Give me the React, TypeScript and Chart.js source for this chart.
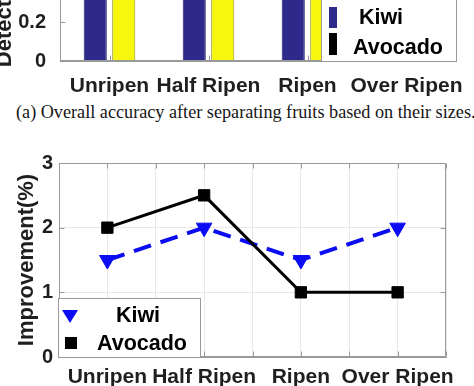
import React, { useEffect, useRef } from "react";
import { Chart, registerables } from "chart.js";

Chart.register(...registerables);

// ---------- data ----------
const categories = ["Unripen", "Half Ripen", "Ripen", "Over Ripen"];
const seriesNames = ["Kiwi", "Avocado"];
// top chart (only the lower part is visible in the reference; upper values estimated)
const kiwiAccuracy = [0.93, 0.9, 0.95, 0.92];
const avocadoAccuracy = [0.95, 0.92, 0.9, 0.94];
const accuracyTicks = [0, 0.2, 0.4, 0.6, 0.8, 1];
// bottom chart
const kiwiImprovement = [1.5, 2, 1.5, 2];
const avocadoImprovement = [2, 2.5, 1, 1];
const improvementTicks = [0, 1, 2, 3];
const accuracyTitle = "Detection Accuracy";
const improvementTitle = "Improvement(%)";
const captionText = "(a) Overall accuracy after separating fruits based on their sizes.";

// ---------- style ----------
const FONT = "'Liberation Sans', Arial, Helvetica, sans-serif";
const TEXT = "#1f1f1f";
const AXIS = "#9a9a9a";
const GRID = "#e8e8e8";
const NAVY = "#2d2a8c";
const YELLOW = "#f7f70d";
const BLUE = "#0c0cf2";

const boxPlugin = {
  id: "box",
  afterDatasetsDraw(chart: any, _args: any, opts: any) {
    const { ctx, chartArea: a, scales } = chart;
    const len = opts.len ?? 5;
    ctx.save();
    ctx.strokeStyle = opts.color || AXIS;
    ctx.lineWidth = 1;
    const L = Math.round(a.left) + 0.5;
    const R = Math.round(a.right) - 0.5;
    const T = Math.round(a.top) + 0.5;
    const B = Math.round(a.bottom) - 0.5;
    ctx.beginPath();
    ctx.moveTo(L, B);
    ctx.lineTo(L, T);
    ctx.lineTo(R, T);
    ctx.lineTo(R, B);
    ctx.lineTo(L, B);
    const xs = scales.x;
    xs.ticks.forEach((_t: any, i: number) => {
      const p = Math.round(xs.getPixelForTick(i)) + 0.5;
      ctx.moveTo(p, B);
      ctx.lineTo(p, B - len);
      ctx.moveTo(p, T);
      ctx.lineTo(p, T + len);
    });
    const ys = scales.y;
    ys.ticks.forEach((_t: any, i: number) => {
      const p = Math.round(ys.getPixelForTick(i)) + 0.5;
      ctx.moveTo(L, p);
      ctx.lineTo(L + len, p);
      ctx.moveTo(R, p);
      ctx.lineTo(R - len, p);
    });
    ctx.stroke();
    ctx.restore();
  },
};

function TopChart() {
  const ref = useRef<HTMLCanvasElement | null>(null);
  useEffect(() => {
    if (!ref.current) return;
    const chart = new Chart(ref.current, {
      type: "bar",
      data: {
        labels: categories,
        datasets: [
          {
            label: seriesNames[0],
            data: kiwiAccuracy,
            backgroundColor: NAVY,
            borderColor: "#1d1b62",
            borderWidth: 1,
            categoryPercentage: 0.576,
            barPercentage: 0.81,
          },
          {
            label: seriesNames[1],
            data: avocadoAccuracy,
            backgroundColor: YELLOW,
            borderColor: "#8e8e1c",
            borderWidth: 1,
            categoryPercentage: 0.576,
            barPercentage: 0.81,
          },
        ],
      },
      options: {
        animation: false,
        responsive: false,
        events: [],
        layout: { padding: { top: 16, right: 18, bottom: 0, left: 0 } },
        plugins: {
          legend: { display: false },
          tooltip: { enabled: false },
          box: { color: AXIS, len: 5 },
        } as any,
        scales: {
          x: {
            type: "category",
            offset: true,
            grid: { display: false },
            border: { color: AXIS },
            ticks: {
              color: TEXT,
              font: { family: FONT, size: 21, weight: "bold" },
              padding: 5,
              autoSkip: false,
              maxRotation: 0,
              minRotation: 0,
            },
            afterFit: (s: any) => {
              s.height = 39;
            },
          },
          y: {
            min: 0,
            max: 1,
            grid: { display: false },
            border: { color: AXIS },
            afterBuildTicks: (s: any) => {
              s.ticks = accuracyTicks.map((v) => ({ value: v }));
            },
            ticks: {
              color: TEXT,
              font: { family: FONT, size: 20, weight: "bold" },
              padding: 6,
            },
            title: {
              display: true,
              text: accuracyTitle,
              color: TEXT,
              font: { family: FONT, size: 22, weight: "bold" },
              padding: { top: 2, bottom: 0 },
            },
            afterFit: (s: any) => {
              s.width = 70;
            },
          },
        },
      } as any,
      plugins: [boxPlugin],
    });
    return () => chart.destroy();
  }, []);
  return (
    <canvas
      ref={ref}
      width={484}
      height={250}
      style={{ position: "absolute", left: -10, top: -150, width: 484, height: 250 }}
    />
  );
}

function BottomChart() {
  const ref = useRef<HTMLCanvasElement | null>(null);
  useEffect(() => {
    if (!ref.current) return;
    const chart = new Chart(ref.current, {
      type: "line",
      data: {
        datasets: [
          {
            label: seriesNames[0],
            data: categories.map((_c, i) => ({ x: i + 1, y: kiwiImprovement[i] })),
            borderColor: BLUE,
            backgroundColor: BLUE,
            borderWidth: 4,
            borderDash: [18, 10],
            pointStyle: "triangle",
            rotation: 180,
            pointRadius: 9,
            pointBorderWidth: 1,
            pointBackgroundColor: BLUE,
            pointBorderColor: BLUE,
            tension: 0,
            order: 1,
          },
          {
            label: seriesNames[1],
            data: categories.map((_c, i) => ({ x: i + 1, y: avocadoImprovement[i] })),
            borderColor: "#000000",
            backgroundColor: "#000000",
            borderWidth: 3,
            pointStyle: "rect",
            pointRadius: 8,
            pointBorderWidth: 1,
            pointBackgroundColor: "#000000",
            pointBorderColor: "#000000",
            tension: 0,
            order: 0,
          },
        ],
      },
      options: {
        animation: false,
        responsive: false,
        events: [],
        layout: { padding: { top: 23, right: 28, bottom: 0, left: 0 } },
        plugins: {
          legend: { display: false },
          tooltip: { enabled: false },
          box: { color: AXIS, len: 5 },
        } as any,
        scales: {
          x: {
            type: "linear",
            min: 0.5,
            max: categories.length + 0.5,
            grid: { color: GRID, drawTicks: false },
            border: { color: AXIS },
            ticks: {
              stepSize: 0.5,
              color: TEXT,
              font: { family: FONT, size: 21, weight: "bold" },
              padding: 8,
              autoSkip: false,
              maxRotation: 0,
              minRotation: 0,
              callback: (v: any) => {
                const n = Number(v);
                return Number.isInteger(n) && n >= 1 && n <= categories.length
                  ? categories[n - 1]
                  : "";
              },
            },
            afterFit: (s: any) => {
              s.height = 53;
            },
          },
          y: {
            min: 0,
            max: 3,
            grid: { color: GRID, drawTicks: false },
            border: { color: AXIS },
            afterBuildTicks: (s: any) => {
              s.ticks = improvementTicks.map((v) => ({ value: v }));
            },
            ticks: {
              color: TEXT,
              font: { family: FONT, size: 20, weight: "bold" },
              padding: 6,
            },
            title: {
              display: true,
              text: improvementTitle,
              color: TEXT,
              font: { family: FONT, size: 22, weight: "bold" },
              padding: { top: 14, bottom: 0 },
            },
            afterFit: (s: any) => {
              s.width = 59;
            },
          },
        },
      } as any,
      plugins: [boxPlugin],
    });
    return () => chart.destroy();
  }, []);
  return (
    <canvas
      ref={ref}
      width={474}
      height={270}
      style={{ position: "absolute", left: 0, top: 140, width: 474, height: 270 }}
    />
  );
}

const legendText: React.CSSProperties = {
  position: "absolute",
  width: 200,
  textAlign: "center",
  fontFamily: FONT,
  fontWeight: "bold",
  fontSize: 21.5,
  lineHeight: "26px",
  height: 26,
  color: "#000",
  whiteSpace: "nowrap",
};

export default function App() {
  useEffect(() => {
    document.body.style.margin = "0";
  }, []);
  return (
    <div
      style={{
        position: "fixed",
        left: 0,
        top: 0,
        width: 474,
        height: 386,
        overflow: "hidden",
        background: "#ffffff",
      }}
    >
      <TopChart />
      {/* top legend */}
      <div
        style={{
          position: "absolute",
          left: 321,
          top: -2,
          width: 134,
          height: 62,
          background: "#fff",
          border: `1px solid ${AXIS}`,
        }}
      />
      <div style={{ position: "absolute", left: 329, top: 7, width: 8, height: 21, background: NAVY }} />
      <div style={{ position: "absolute", left: 329, top: 33, width: 8, height: 22, background: "#000" }} />
      <div style={{ ...legendText, left: 381 - 100, top: 17 - 13 }}>{seriesNames[0]}</div>
      <div style={{ ...legendText, left: 398 - 100, top: 47 - 13 }}>{seriesNames[1]}</div>

      {/* caption */}
      <div
        style={{
          position: "absolute",
          left: 16,
          top: 101,
          fontFamily: "'Liberation Serif', 'Times New Roman', serif",
          fontSize: 18.2,
          lineHeight: "22px",
          color: "#151515",
          whiteSpace: "nowrap",
        }}
      >
        {captionText}
      </div>

      <BottomChart />
      {/* bottom legend */}
      <div
        style={{
          position: "absolute",
          left: 58,
          top: 298,
          width: 141,
          height: 58,
          background: "#fff",
          border: `1px solid ${AXIS}`,
        }}
      />
      <div
        style={{
          position: "absolute",
          left: 62,
          top: 310,
          width: 0,
          height: 0,
          borderLeft: "8.5px solid transparent",
          borderRight: "8.5px solid transparent",
          borderTop: `13px solid ${BLUE}`,
        }}
      />
      <div style={{ position: "absolute", left: 65, top: 337, width: 12, height: 12, background: "#000" }} />
      <div style={{ ...legendText, left: 138 - 100, top: 315 - 13 }}>{seriesNames[0]}</div>
      <div style={{ ...legendText, left: 142 - 100, top: 343 - 13 }}>{seriesNames[1]}</div>
    </div>
  );
}
